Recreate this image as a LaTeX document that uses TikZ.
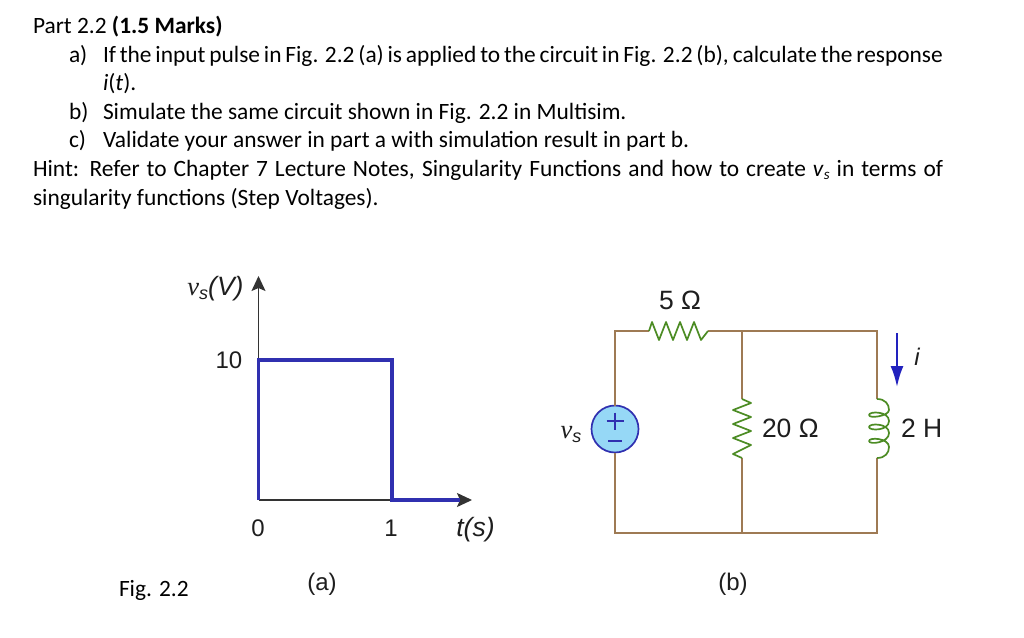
\documentclass[tikz,border=0pt]{standalone}
\usepackage{fontspec}
\setmainfont{Carlito}
\newfontfamily\figfont{Liberation Sans}
\newfontfamily\serfont{Liberation Serif}
\usetikzlibrary{arrows.meta}
\definecolor{wire}{RGB}{158,122,84}
\definecolor{compgreen}{RGB}{76,140,36}
\definecolor{pulseblue}{RGB}{48,48,176}
\definecolor{srcfill}{RGB}{150,216,246}
\definecolor{arrowblue}{RGB}{34,34,190}
\definecolor{inktext}{RGB}{30,30,30}
\tikzset{
  body/.style={anchor=base west,inner sep=0pt,outer sep=0pt,font=\fontsize{23.4}{26}\selectfont,text=black},
  figlabel/.style={inner sep=0pt,outer sep=0pt,font=\figfont\fontsize{24}{27}\selectfont,text=inktext},
  bigfig/.style={figlabel,font=\figfont\fontsize{26.5}{29}\selectfont},
  wireline/.style={draw=wire,line width=1.8pt},
  comp/.style={draw=compgreen,line width=1.7pt,line join=round},
  axisline/.style={draw=black!80,line width=1.3pt},
  pulse/.style={draw=pulseblue,line width=3.2pt,line cap=butt,line join=miter},
  axistip/.style={-{Stealth[length=15pt,width=14pt,inset=3pt]}}
}
\begin{document}
\begin{tikzpicture}[x=1pt,y=-1pt]
\useasboundingbox (0,0) rectangle (1024,637);
\fill[white] (0,0) rectangle (1024,637);
% text block
\node[body] (t0) at (33,33) {Part 2.2 \textbf{(1.5 Marks)}};
\node[body] (t1m) at (69,62) {a)};
\node[body] (t1) at (103,62) {\makebox[840pt][s]{If the input pulse in Fig. 2.2 (a) is applied to the circuit in Fig. 2.2 (b), calculate the response}};
\node[body] (t2) at (103,90) {\textit{i}(\textit{t}).};
\node[body] (t3m) at (69,119) {b)};
\node[body] (t3) at (103,119) {Simulate the same circuit shown in Fig. 2.2 in Multisim.};
\node[body] (t4m) at (69,147) {c)};
\node[body] (t4) at (103,147) {Validate your answer in part a with simulation result in part b.};
\node[body] (t5) at (33,176) {\makebox[910pt][s]{Hint: Refer to Chapter 7 Lecture Notes, Singularity Functions and how to create \textit{v}\raisebox{-3pt}{\itshape\fontsize{15}{15}\selectfont s} in terms of}};
\node[body] (t6) at (33,205) {singularity functions (Step Voltages).};
\node[body] (figcap) at (119,596) {Fig. 2.2};
% plot
\coordinate (o) at (258.5,500);
\coordinate (ytop) at (258.5,276);
\coordinate (xend) at (472,500);
\coordinate (p1) at (258.5,360);
\coordinate (p2) at (392,360);
\coordinate (p3) at (392,500);
\coordinate (p4) at (460,500);
\draw[axisline,axistip] (o) -- (ytop);
\draw[axisline,axistip] (o) -- (xend);
\draw[pulse] (o) -- (p1) -- (p2) -- (p3) -- (p4);
\node[bigfig,anchor=base] (vlabel) at (215.5,295) {{\serfont\itshape v}\raisebox{-4pt}{\figfont\itshape\fontsize{18}{18}\selectfont s}{\itshape(V)}};
\node[figlabel,anchor=base] (ten) at (229,368) {10};
\node[figlabel,anchor=base] (zero) at (258,536) {0};
\node[figlabel,anchor=base] (one) at (391,536) {1};
\node[bigfig,anchor=base] (tlabel) at (475.5,536) {\itshape t(s)};
\node[figlabel,anchor=base] (la) at (322,590) {(a)};
\node[figlabel,anchor=base] (lb) at (733,590) {(b)};
% circuit
\coordinate (tl) at (615,331);
\coordinate (r1a) at (649,331);
\coordinate (r1b) at (708,331);
\coordinate (tm) at (742,331);
\coordinate (tr) at (877,331);
\coordinate (bl) at (615,533);
\coordinate (bm) at (742,533);
\coordinate (br) at (877,533);
\coordinate (r2a) at (742,399);
\coordinate (r2b) at (742,458);
\coordinate (l1a) at (877,399);
\coordinate (l1b) at (877,458);
\node[circle,draw=pulseblue,fill=srcfill,line width=1.7pt,minimum size=47pt,inner sep=0pt,outer sep=0pt] (src) at (615,429) {};
\draw[wireline] (src.north) -- (tl) -- (r1a);
\draw[wireline] (r1b) -- (tm) -- (tr) -- (l1a);
\draw[wireline] (tm) -- (r2a);
\draw[wireline] (r2b) -- (bm);
\draw[wireline] (l1b) -- (br) -- (bm) -- (bl) -- (src.south);
% plus / minus
\draw[draw=pulseblue,line width=1.6pt] (606.5,421) -- (623.5,421) (615,412.5) -- (615,429.5);
\draw[draw=pulseblue,line width=1.6pt] (608,441) -- (622,441);
% 5 ohm
\draw[comp] (r1a) -- (652,322) -- (659,340) -- ++(7,-18) -- ++(7,18) -- ++(7,-18) -- ++(7,18) -- ++(7,-18) -- ++(7,18) -- (r1b);
% 20 ohm
\draw[comp] (r2a) -- (751,403) -- (733,410) -- ++(18,7) -- ++(-18,7) -- ++(18,7) -- ++(-18,7) -- ++(18,7) -- (733,454) -- (r2b);
% 2 H
\draw[comp] (l1a) .. controls (885,399) and (889,404) .. (889,410)
  .. controls (889,416) and (869,419) .. (869,415)
  .. controls (869,411) and (889,411) .. (889,421)
  .. controls (889,431) and (869,431) .. (869,427)
  .. controls (869,423) and (889,423) .. (889,433)
  .. controls (889,443) and (869,445) .. (869,441)
  .. controls (869,437) and (889,438) .. (889,447)
  .. controls (889,453) and (885,458) .. (l1b);
% current arrow
\coordinate (ia) at (897,333);
\coordinate (ib) at (897,387);
\draw[draw=arrowblue,fill=arrowblue,line width=2.2pt,-{Latex[length=21pt,width=13pt]}] (ia) -- (ib);
\node[figlabel,anchor=base,font=\figfont\itshape\fontsize{24}{26}\selectfont] (ilabel) at (917,365) {i};
\node[bigfig,anchor=base] (r1label) at (680,309) {5 Ω};
\node[bigfig,anchor=west] (r2label) at (762,428) {20 Ω};
\node[bigfig,anchor=west] (l1label) at (901,428) {2 H};
\node[bigfig,anchor=base] (vslabel) at (571,438) {{\serfont\itshape v}\raisebox{-4pt}{\figfont\itshape\fontsize{18}{18}\selectfont s}};
\end{tikzpicture}
\end{document}
